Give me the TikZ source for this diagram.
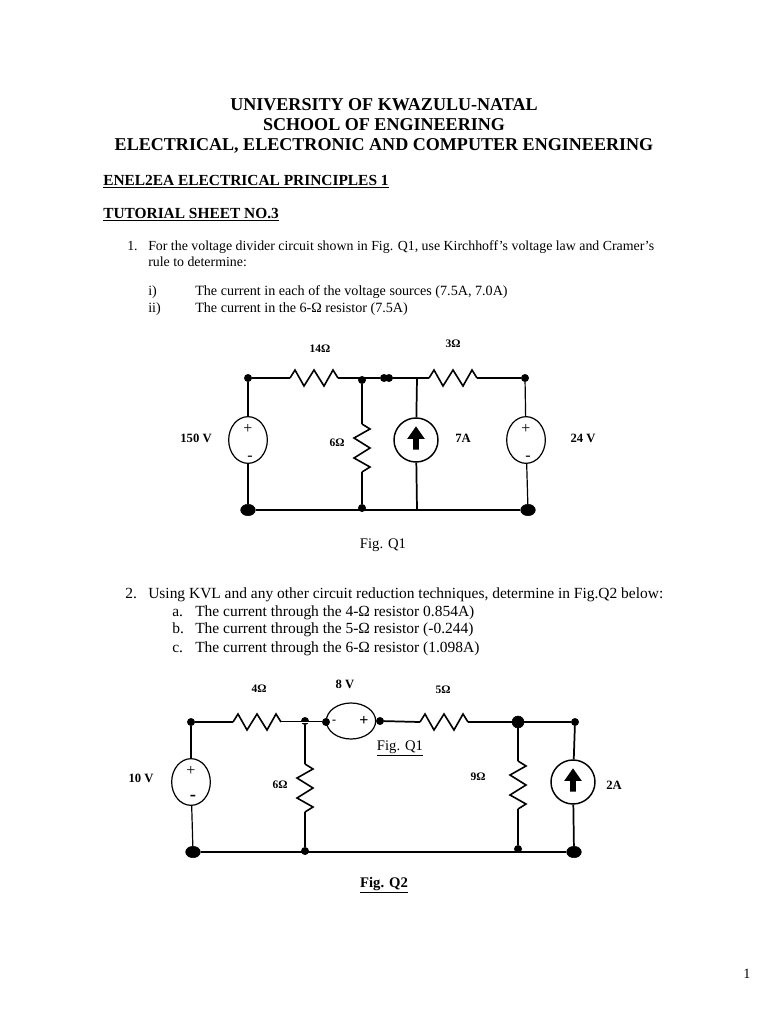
\documentclass[tikz,border=0pt]{standalone}
\usepackage{fontspec}
\setmainfont{Liberation Serif}
\usetikzlibrary{shapes.geometric, shapes.arrows}
\tikzset{%
	wire/.style={line width=0.9pt},
	bus/.style={line width=1.3pt},
	twin/.style={line width=0.5pt, double, double distance=0.7pt},
	dot/.style={draw, circle, fill=black, inner sep=0mm, minimum size=5.5pt},
	bigdot/.style={draw, ellipse, fill=black, inner sep=0mm, minimum width=11pt, minimum height=8.5pt},
	vsrc/.style={draw, ellipse, line width=0.9pt, inner sep=0mm, minimum width=29pt, minimum height=35pt},
	hsrc/.style={draw, ellipse, line width=0.9pt, inner sep=0mm, minimum width=37pt, minimum height=27pt},
	isrc/.style={draw, circle, line width=1.1pt, inner sep=0mm, minimum size=33pt},
	uparrow/.style={single arrow, fill=black, rotate=90, inner xsep=0mm, inner ysep=1.9pt, minimum height=17.5pt, minimum width=13pt,%
		single arrow tip angle=70, single arrow head extend=4.5pt},
	sign/.style={font=\fontsize{12}{12}\selectfont, inner sep=0mm},
	val/.style={font=\fontsize{8.6}{9}\selectfont\bfseries, inner sep=0mm},
	src/.style={font=\fontsize{9.5}{10}\selectfont\bfseries, inner sep=0mm},
	head/.style={font=\fontsize{13.55}{14}\selectfont\bfseries, inner sep=0mm, anchor=base},
	title/.style={font=\fontsize{11.55}{12}\selectfont\bfseries, inner sep=0mm, anchor=base west},
	txt/.style={font=\fontsize{10.6}{12}\selectfont, inner sep=0mm, anchor=base west},
	txta/.style={font=\fontsize{10.4}{12}\selectfont, inner sep=0mm, anchor=base west},
	txtb/.style={font=\fontsize{11.6}{12}\selectfont, inner sep=0mm, anchor=base west},
	fig/.style={font=\fontsize{11}{12}\selectfont, inner sep=0mm, anchor=base},
	res/.pic={
		\draw[line width=1.2pt] (-24,0) -- (-19,-8) -- (-10,8) -- (0,-8) -- (10,8) -- (19,-8) -- (24,0);
		\coordinate (-l) at (-24,0);
		\coordinate (-r) at (24,0);
	}
}

\begin{document}
\begin{tikzpicture}[x=0.75pt, y=-0.75pt]
	\useasboundingbox (0,0) rectangle (768,1024);

	% heading
	\node[head] (h1) at (384,110) {UNIVERSITY OF KWAZULU-NATAL};
	\node[head] (h2) at (384,130) {SCHOOL OF ENGINEERING};
	\node[head] (h3) at (384,150) {ELECTRICAL, ELECTRONIC AND COMPUTER ENGINEERING};
	\node[title] (t1) at (103,185) {\underline{ENEL2EA ELECTRICAL PRINCIPLES 1}};
	\node[title] (t2) at (103,218) {\underline{TUTORIAL SHEET NO.3}};

	% question 1
	\node[txta] (q1n) at (127,250) {1.};
	\node[txta] (q1a) at (148,250) {For the voltage divider circuit shown in Fig. Q1, use Kirchhoff’s voltage law and Cramer’s};
	\node[txta] (q1b) at (148,266) {rule to determine:};
	\node[txt] (q1i) at (148,295) {i)};
	\node[txt] (q1c) at (195,295) {The current in each of the voltage sources (7.5A, 7.0A)};
	\node[txt] (q1j) at (148,312) {ii)};
	\node[txt] (q1d) at (195,312) {The current in the 6-Ω resistor (7.5A)};

	% Fig. Q1
	\node[dot] (a1) at (248,378) {};
	\pic (r14) at (314,378) {res};
	\node[dot] (a2) at (362,380) {};
	\node[dot] (a3) at (384,378) {};
	\node[dot] (a4) at (389,378) {};
	\coordinate (a5) at (417,378);
	\pic (r3) at (453,378) {res};
	\node[dot] (a6) at (525,378) {};
	\node[vsrc] (s150) at (248,440) {};
	\pic[rotate=-90] (r6) at (362,448) {res};
	\node[isrc] (i7) at (416,440) {};
	\node[uparrow] (i7a) at (416,440) {};
	\node[vsrc] (s24) at (526,440) {};
	\node[bigdot] (b1) at (248,510) {};
	\node[dot] (b2) at (362,508) {};
	\coordinate (b3) at (417,510);
	\node[bigdot] (b4) at (528,510) {};

	\draw[wire] (a1) -- (r14-l);
	\draw[wire] (r14-r) -- (a3) -- (a4) -- (a5) -- (r3-l);
	\draw[wire] (r3-r) -- (a6);
	\draw[wire] (a1) -- (s150);
	\draw[wire] (s150) -- (b1);
	\draw[wire] (a2) -- (r6-l);
	\draw[wire] (r6-r) -- (b2);
	\draw[bus] (a5) -- (i7);
	\draw[bus] (i7) -- (b3);
	\draw[wire] (a6) -- (s24);
	\draw[wire] (s24) -- (b4);
	\draw[bus] (b1) -- (b4);

	\node[sign] (s150p) at (248,429) {+};
	\node[sign] (s150m) at (250,458) {-};
	\node[sign] (s24p) at (526,429) {+};
	\node[sign] (s24m) at (528,458) {-};
	\node[val] (l14) at (320,349) {14Ω};
	\node[val] (l3) at (453,344) {3Ω};
	\node[src] (l150) at (196,438) {150 V};
	\node[val] (l6) at (337,443) {6Ω};
	\node[src] (l7) at (463,438) {7A};
	\node[src] (l24) at (583,438) {24 V};
	\node[fig] (f1) at (383,548) {Fig. Q1};

	% question 2
	\node[txtb] (q2n) at (125,598) {2.};
	\node[txtb] (q2a) at (148,598) {Using KVL and any other circuit reduction techniques, determine in Fig.Q2 below:};
	\node[txtb] (q2i) at (172,616) {a.};
	\node[txtb] (q2b) at (195,616) {The current through the 4-Ω resistor 0.854A)};
	\node[txtb] (q2j) at (172,633) {b.};
	\node[txtb] (q2c) at (195,633) {The current through the 5-Ω resistor (-0.244)};
	\node[txtb] (q2k) at (172,652) {c.};
	\node[txtb] (q2d) at (195,652) {The current through the 6-Ω resistor (1.098A)};

	% Fig. Q2
	\node[dot] (c1) at (191,722) {};
	\pic (r4) at (257,722) {res};
	\node[dot] (c2) at (305,721) {};
	\node[dot] (c3) at (326,722) {};
	\node[hsrc] (s8) at (351,721) {};
	\node[dot] (c4) at (380,721) {};
	\pic (r5) at (444,722) {res};
	\node[dot, minimum size=9pt] (c5) at (518,722) {};
	\node[dot] (c6) at (575,722) {};
	\node[vsrc] (s10) at (191,782) {};
	\pic[rotate=-90] (r6b) at (305,788) {res};
	\pic[rotate=-90] (r9) at (518,785) {res};
	\node[isrc] (i2) at (573,782) {};
	\node[uparrow] (i2a) at (573,782) {};
	\node[bigdot] (d1) at (193,852) {};
	\node[dot] (d2) at (305,851) {};
	\node[dot] (d3) at (518,849) {};
	\node[bigdot] (d4) at (574,852) {};

	\draw[bus] (c1) -- (r4-l);
	\draw[twin] (r4-r) -- (c3);
	\draw[bus] (c4) -- (r5-l);
	\draw[bus] (r5-r) -- (c5);
	\draw[wire] (c5) -- (c6);
	\draw[wire] (c1) -- (s10);
	\draw[wire] (s10) -- (d1);
	\draw[wire] (c2) -- (r6b-l);
	\draw[wire] (r6b-r) -- (d2);
	\draw[bus] (c5) -- (r9-l);
	\draw[bus] (r9-r) -- (d3);
	\draw[bus] (c6) -- (i2);
	\draw[bus] (i2) -- (d4);
	\draw[bus] (d1) -- (d4);

	\node[sign] (s10p) at (191,771) {+};
	\node[sign, font=\fontsize{14}{14}\selectfont\bfseries] (s10m) at (193,798) {-};
	\node[sign, font=\fontsize{9}{9}\selectfont\bfseries] (s8m) at (334,722) {-};
	\node[sign, font=\fontsize{12}{12}\selectfont\bfseries] (s8p) at (364,721) {+};
	\node[val] (l4) at (259,689) {4Ω};
	\node[src] (l8) at (345,684) {8 V};
	\node[val] (l5) at (443,690) {5Ω};
	\node[fig] (f1b) at (400,750) {\underline{Fig. Q1}};
	\node[src] (l10) at (141,778) {10 V};
	\node[val] (l6b) at (280,785) {6Ω};
	\node[val] (l9) at (478,777) {9Ω};
	\node[src] (l2) at (614,785) {2A};
	\node[fig, font=\fontsize{11}{12}\selectfont\bfseries] (f2) at (384,887) {\underline{Fig. Q2}};
	\node[txt, anchor=base] (pg) at (747,978) {1};
\end{tikzpicture}
\end{document}
